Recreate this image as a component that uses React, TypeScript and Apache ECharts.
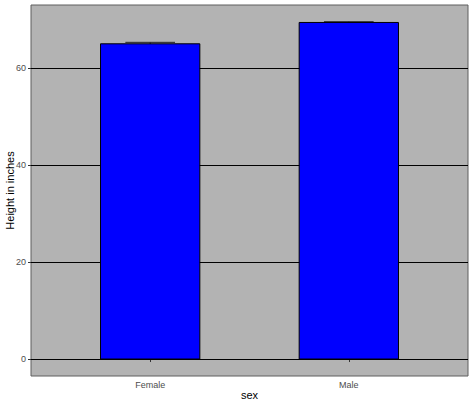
import React, { useEffect, useRef } from 'react'
import * as echarts from 'echarts'

// mean height with +/- standard error, per sex
const categories = ['Female', 'Male']
const means = [65.0, 69.4]
const lower = [64.7, 69.25]
const upper = [65.3, 69.55]
const yTicks = [0, 20, 40, 60]

const FONT = '"Liberation Sans", Arial, sans-serif'

const App: React.FC = () => {
  const chartRef = useRef<HTMLDivElement>(null)

  useEffect(() => {
    if (!chartRef.current) return
    const chart = echarts.init(chartRef.current, undefined, { renderer: 'svg' })

    const barData = categories.map((_, i) => [i + 1, means[i]])
    const errData = categories.map((_, i) => [i + 1, lower[i], upper[i]])

    const option: any = {
      animation: false,
      grid: {
        left: 31,
        right: 6,
        top: 5,
        bottom: 30,
        outerBoundsMode: 'none',
        containLabel: false,
        show: true,
        backgroundColor: '#b3b3b3',
        borderColor: '#5e5e5e',
        borderWidth: 1
      },
      xAxis: {
        type: 'value',
        min: 0.4,
        max: 2.6,
        name: 'sex',
        nameLocation: 'middle',
        nameGap: 13,
        nameMoveOverlap: false,
        nameTextStyle: { fontFamily: FONT, fontSize: 11, color: '#000' },
        axisLine: { show: false },
        splitLine: { show: false },
        axisTick: {
          show: true,
          length: 3,
          customValues: [1, 2],
          lineStyle: { color: '#333333' }
        },
        axisLabel: {
          customValues: [1, 2],
          formatter: (v: number) => categories[Math.round(v) - 1] ?? '',
          margin: 4,
          fontFamily: FONT,
          fontSize: 9,
          color: '#4d4d4d'
        }
      },
      yAxis: {
        type: 'value',
        min: -3.5,
        max: 73,
        name: 'Height in inches',
        nameLocation: 'middle',
        nameGap: 16,
        nameMoveOverlap: false,
        nameTextStyle: { fontFamily: FONT, fontSize: 11, color: '#000' },
        axisLine: { show: false },
        splitLine: { show: false },
        axisTick: {
          show: true,
          length: 3,
          customValues: yTicks,
          lineStyle: { color: '#333333' }
        },
        axisLabel: {
          customValues: yTicks,
          margin: 5,
          fontFamily: FONT,
          fontSize: 9,
          color: '#4d4d4d'
        }
      },
      series: [
        {
          type: 'line',
          data: [],
          silent: true,
          markLine: {
            z: 1,
            silent: true,
            symbol: 'none',
            label: { show: false },
            lineStyle: { color: '#000000', width: 1, type: 'solid' },
            data: yTicks.map(v => ({ yAxis: v }))
          }
        },
        {
          type: 'custom',
          z: 2,
          data: errData,
          renderItem: (params: any, api: any) => {
            const x = api.value(0)
            const lo = api.coord([x, api.value(1)])
            const hi = api.coord([x, api.value(2)])
            const half = api.size([0.25, 0])[0] / 2
            const style = { stroke: '#222222', lineWidth: 1 }
            return {
              type: 'group',
              children: [
                { type: 'line', shape: { x1: hi[0] - half, y1: hi[1], x2: hi[0] + half, y2: hi[1] }, style },
                { type: 'line', shape: { x1: hi[0], y1: hi[1], x2: lo[0], y2: lo[1] }, style },
                { type: 'line', shape: { x1: lo[0] - half, y1: lo[1], x2: lo[0] + half, y2: lo[1] }, style }
              ]
            }
          }
        },
        {
          type: 'custom',
          z: 3,
          data: barData,
          renderItem: (params: any, api: any) => {
            const x = api.value(0)
            const top = api.coord([x, api.value(1)])
            const base = api.coord([x, 0])
            const w = api.size([0.5, 0])[0]
            return {
              type: 'rect',
              shape: { x: top[0] - w / 2, y: top[1], width: w, height: base[1] - top[1] },
              style: { fill: '#0000ff', stroke: '#000000', lineWidth: 1 }
            }
          }
        }
      ]
    }

    chart.setOption(option)
    return () => {
      chart.dispose()
    }
  }, [])

  return (
    <div
      ref={chartRef}
      style={{ position: 'fixed', left: 0, top: 0, width: 474, height: 406, background: '#fff' }}
    />
  )
}

export default App
